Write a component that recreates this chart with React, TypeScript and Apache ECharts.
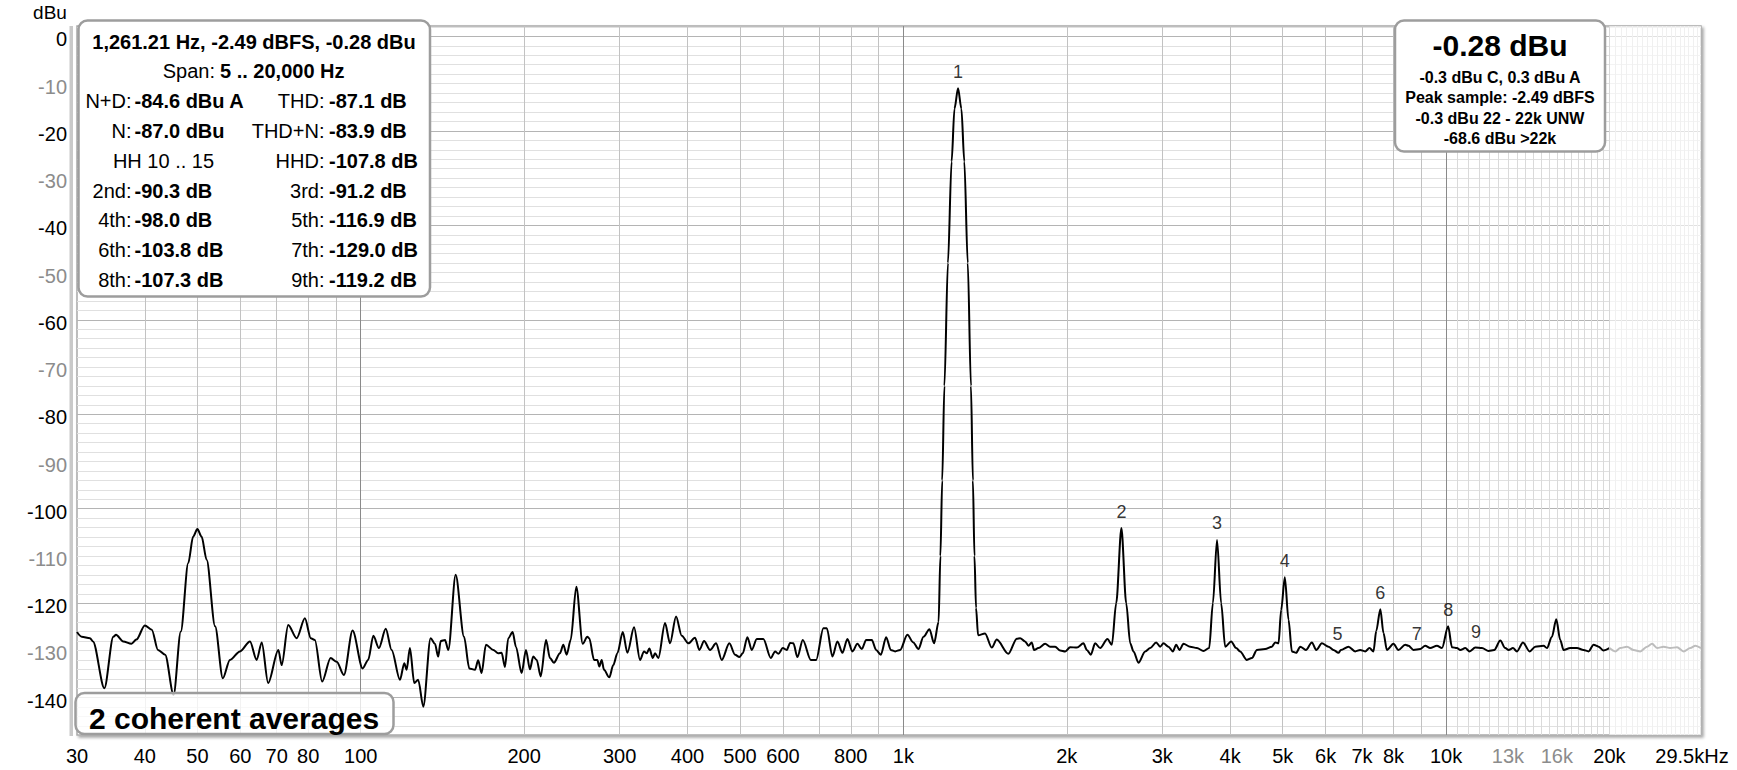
import React, { useEffect, useRef } from 'react';
import * as echarts from 'echarts';

const FONT = '"Liberation Sans", Arial, sans-serif';

// Noise floor 30 Hz .. 1.14 kHz
const lowFreqHz = [30.0, 30.6, 31.7, 32.1, 33.7, 35.0, 35.4, 36.5, 37.8, 38.6, 40.0, 41.2, 42.3, 43.6, 45.2, 46.6, 48.1, 49.1, 50.0, 50.9, 52.0, 53.9, 55.7, 57.4, 59.9, 62.5, 64.3, 65.7, 67.5, 70.5, 71.5, 73.5, 76.2, 78.9, 80.9, 82.3, 84.9, 88.0, 90.3, 93.1, 96.6, 100.8, 103.2, 105.5, 108.0, 111.2, 114.0, 118.1, 120.3, 121.5, 123.2, 125.5, 127.6, 130.4, 134.5, 137.0, 138.9, 140.4, 143.0, 145.0, 149.6, 155.0, 158.5, 162.4, 164.6, 167.0, 170.1, 175.5, 179.2, 181.8, 184.4, 187.0, 190.5, 193.2, 197.9, 201.6, 205.0, 207.9, 211.0, 214.6, 219.5, 223.2, 227.0, 232.9, 236.2, 239.6, 243.7, 249.6, 256.5, 261.5, 263.7, 269.1, 272.9, 275.2, 278.0, 280.7, 287.1, 292.0, 297.1, 304.0, 310.0, 318.9, 327.1, 332.7, 336.6, 340.3, 345.2, 348.6, 353.5, 363.7, 371.5, 381.1, 390.4, 401.5, 413.1, 420.7, 429.2, 440.3, 451.6, 462.7, 477.8, 489.5, 498.6, 505.8, 515.8, 525.5, 536.8, 552.0, 569.7, 580.2, 588.3, 599.5, 609.7, 618.3, 627.0, 637.8, 652.6, 675.1, 690.5, 712.2, 722.6, 739.9, 755.8, 772.0, 788.6, 805.5, 822.8, 838.3, 853.8, 874.7, 890.8, 908.7, 929.4, 948.1, 965.5, 986.2, 1017, 1043, 1066, 1089, 1117, 1139];
const lowLevelDbu = [-126.1, -127.1, -127.4, -128.1, -138.0, -127.1, -126.7, -128.1, -128.6, -127.7, -124.7, -125.6, -129.9, -130.9, -139.4, -126.0, -111.5, -105.9, -104.3, -105.9, -110.8, -124.9, -135.9, -132.0, -130.2, -128.1, -132.0, -128.3, -136.9, -129.9, -133.1, -124.6, -127.4, -123.2, -127.4, -127.8, -136.6, -131.6, -132.4, -135.2, -125.8, -133.8, -132.0, -126.9, -129.5, -125.4, -129.9, -136.2, -132.7, -134.1, -129.5, -136.9, -136.2, -141.9, -127.4, -128.6, -131.3, -128.0, -127.8, -129.9, -114.0, -127.1, -133.8, -134.1, -132.1, -134.8, -128.8, -129.9, -130.6, -130.5, -133.5, -127.4, -126.1, -129.2, -134.8, -129.9, -134.0, -131.3, -132.0, -135.5, -127.8, -131.6, -132.6, -130.6, -128.8, -130.9, -127.8, -116.5, -128.6, -127.1, -127.4, -132.0, -132.0, -133.4, -132.0, -134.1, -135.7, -133.1, -130.6, -126.1, -130.5, -125.1, -132.0, -130.2, -130.6, -129.6, -131.6, -130.6, -131.6, -124.2, -128.5, -122.8, -126.9, -128.5, -127.3, -129.9, -128.0, -129.9, -128.5, -132.0, -128.5, -130.9, -131.4, -130.6, -127.2, -129.9, -127.6, -127.6, -131.6, -130.2, -130.7, -129.5, -129.9, -128.4, -128.5, -131.4, -127.8, -132.0, -132.0, -125.3, -125.3, -131.3, -128.1, -130.5, -127.6, -130.2, -128.6, -129.7, -127.8, -127.8, -129.9, -130.9, -127.2, -129.9, -130.2, -129.9, -126.7, -128.3, -129.7, -127.1, -125.5, -128.5];

// Fundamental (1,261.21 Hz) main lobe
const fundFreqHz = [1161, 1170, 1179, 1190, 1208, 1227, 1242, 1261, 1279, 1295, 1314, 1332, 1343, 1352, 1361, 1373];
const fundLevelDbu = [-124.0, -110.0, -94.0, -74.0, -48.0, -26.5, -15.3, -11.0, -15.3, -26.5, -48.0, -74.0, -94.0, -110.0, -121.0, -126.8];

// Harmonics region 1.4 kHz .. 20 kHz
const highFreqHz = [1414, 1455, 1486, 1561, 1618, 1641, 1676, 1700, 1724, 1741, 1773, 1825, 1864, 1904, 1945, 1987, 2029, 2088, 2147, 2178, 2215, 2256, 2305, 2377, 2422, 2467, 2522, 2574, 2618, 2655, 2711, 2790, 2850, 2923, 2973, 3015, 3079, 3137, 3182, 3227, 3282, 3376, 3474, 3573, 3660, 3718, 3784, 3851, 3917, 4018, 4104, 4174, 4295, 4388, 4482, 4642, 4776, 4843, 4912, 4968, 5045, 5125, 5199, 5295, 5386, 5517, 5659, 5764, 5904, 6072, 6202, 6335, 6400, 6610, 6800, 6946, 7095, 7226, 7350, 7435, 7567, 7668, 7780, 8001, 8172, 8408, 8527, 8710, 8961, 9153, 9350, 9620, 9828, 10090, 10253, 10474, 10622, 10850, 11050, 11320, 11647, 11978, 12271, 12587, 12857, 13038, 13284, 13512, 13860, 14254, 14601, 15124, 15345, 15673, 15962, 16235, 16465, 16939, 17428, 17922, 18308, 18701, 19102, 19511, 20000];
const highLevelDbu = [-126.4, -129.4, -127.7, -130.7, -127.5, -127.4, -128.1, -129.0, -128.3, -129.9, -129.5, -128.6, -129.2, -129.2, -130.0, -130.2, -129.3, -129.4, -128.5, -129.9, -130.9, -128.5, -129.5, -127.6, -128.8, -120.0, -104.1, -120.0, -128.5, -130.2, -132.6, -130.2, -129.5, -128.3, -129.2, -128.5, -129.2, -130.2, -128.8, -129.9, -128.6, -129.2, -129.5, -130.1, -129.5, -120.0, -106.6, -120.0, -129.2, -128.1, -129.5, -130.2, -132.0, -131.6, -129.9, -129.7, -129.2, -128.3, -128.5, -121.4, -114.5, -123.5, -130.2, -130.5, -129.2, -129.9, -128.3, -129.9, -128.5, -129.2, -129.9, -130.5, -129.9, -129.2, -130.2, -129.9, -130.2, -129.5, -130.2, -125.9, -121.3, -126.3, -129.9, -128.6, -129.9, -128.8, -129.0, -129.9, -129.7, -129.0, -129.5, -129.0, -129.5, -124.9, -129.3, -129.5, -129.9, -129.5, -130.2, -129.4, -129.5, -130.1, -129.9, -127.9, -129.5, -129.9, -129.5, -130.2, -128.3, -130.2, -129.2, -129.0, -129.5, -127.1, -123.4, -127.8, -129.9, -129.5, -129.5, -129.9, -130.2, -128.8, -129.2, -130.0, -129.5];

// Above 20 kHz (drawn grey)
const ultraFreqHz = [20000, 20506, 20946, 21550, 22162, 22802, 23461, 23964, 24478, 25173, 25898, 26646, 27403, 28195, 28800, 29500];
const ultraLevelDbu = [-129.5, -130.2, -129.5, -129.2, -129.9, -130.2, -129.2, -128.6, -129.5, -129.2, -129.5, -129.3, -130.2, -129.5, -129.0, -129.5];

// Harmonic markers
const harmonicNames = ['1', '2', '3', '4', '5', '6', '7', '8', '9'];
const harmonicFreqHz = [1261.21, 2522.4, 3783.6, 5044.8, 6306.1, 7567.3, 8828.5, 10089.7, 11350.9];
const harmonicLevelDbu = [-11.0, -104.1, -106.6, -114.5, -130.0, -121.3, -130.0, -124.9, -129.5];

// Axis ticks
const xLabelValues = [30, 40, 50, 60, 70, 80, 100, 200, 300, 400, 500, 600, 800, 1000, 2000, 3000, 4000, 5000, 6000, 7000, 8000, 10000, 13000, 16000, 20000, 29500];
const xGreyLabels = [13000, 16000];
const xGridLines = [40, 50, 60, 70, 80, 90, 200, 300, 400, 500, 600, 700, 800, 900, 2000, 3000, 4000, 5000, 6000, 7000, 8000, 9000, 20000];
const xDecadeLines = [100, 1000, 10000];
const xFineLines = [10500, 11000, 11500, 12000, 12500, 13000, 13500, 14000, 14500, 15000, 15500, 16000, 16500, 17000, 17500, 18000, 18500, 19000, 19500, 20500, 21000, 21500, 22000, 22500, 23000, 23500, 24000, 24500, 25000, 25500, 26000, 26500, 27000, 27500, 28000, 28500, 29000];
const yLabelValues = [0, -10, -20, -30, -40, -50, -60, -70, -80, -90, -100, -110, -120, -130, -140];
const yMajorLines = [0, -20, -40, -60, -80, -100, -120, -140];
const yMinorLines = [2, -2, -4, -6, -8, -10, -12, -14, -16, -18, -22, -24, -26, -28, -30, -32, -34, -36, -38, -42, -44, -46, -48, -50, -52, -54, -56, -58, -62, -64, -66, -68, -70, -72, -74, -76, -78, -82, -84, -86, -88, -90, -92, -94, -96, -98, -102, -104, -106, -108, -110, -112, -114, -116, -118, -122, -124, -126, -128, -130, -132, -134, -136, -138, -142, -144, -146];

// Info box texts
const headerLine = '1,261.21 Hz, -2.49 dBFS, -0.28 dBu';
const spanLabel = 'Span:';
const spanValue = '5 .. 20,000 Hz';
const leftLabels = ['N+D:', 'N:', '', '2nd:', '4th:', '6th:', '8th:'];
const leftValues = ['-84.6 dBu A', '-87.0 dBu', '', '-90.3 dB', '-98.0 dB', '-103.8 dB', '-107.3 dB'];
const hhText = 'HH 10 .. 15';
const rightLabels = ['THD:', 'THD+N:', 'HHD:', '3rd:', '5th:', '7th:', '9th:'];
const rightValues = ['-87.1 dB', '-83.9 dB', '-107.8 dB', '-91.2 dB', '-116.9 dB', '-129.0 dB', '-119.2 dB'];
const levelTitle = '-0.28 dBu';
const levelLines = ['-0.3 dBu C, 0.3 dBu A', 'Peak sample: -2.49 dBFS', '-0.3 dBu 22 - 22k UNW', '-68.6 dBu >22k'];
const averagesText = '2 coherent averages';

const X_MIN = 30;
const X_MAX = 29500;
const Y_MIN = -147.9;
const Y_MAX = 2.2;

function zip(a: number[], b: number[]) {
  return a.map((v, i) => [v, b[i]]);
}

function txt(text: string, x: number, y: number, size: number, weight: string, align: string, color = '#000') {
  return {
    type: 'text',
    x,
    y,
    z: 12,
    silent: true,
    style: {
      text,
      font: `${weight} ${size}px ${FONT}`,
      fill: color,
      textAlign: align,
      align,
      textVerticalAlign: 'middle',
      verticalAlign: 'middle',
    },
  };
}

function box(x: number, y: number, w: number, h: number, fill: string) {
  return {
    type: 'rect',
    z: 11,
    silent: true,
    shape: { x, y, width: w, height: h, r: 9 },
    style: { fill, stroke: '#9d9d9d', lineWidth: 2.5 },
  };
}

function xLabel(v: number) {
  if (Math.abs(v - 29500) < 1) return '{u|29.5kHz}';
  if (v >= 1000) return `${Math.round(v / 100) / 10}k`;
  return `${Math.round(v)}`;
}

function buildOption() {
  const mainCurve = zip(lowFreqHz, lowLevelDbu)
    .concat(zip(fundFreqHz, fundLevelDbu))
    .concat(zip(highFreqHz, highLevelDbu));
  const ultraCurve = zip(ultraFreqHz, ultraLevelDbu);

  const xBase = { type: 'log', logBase: 10, min: X_MIN, max: X_MAX, gridIndex: 0 };
  const hiddenX = (values: number[], color: string) => ({
    ...xBase,
    axisLine: { show: false },
    axisLabel: { show: false },
    axisTick: { show: false, customValues: values },
    splitLine: { show: true, lineStyle: { color, width: 1 } },
  });
  const yBase = { type: 'value', min: Y_MIN, max: Y_MAX, gridIndex: 0 };

  const graphics: any[] = [];
  graphics.push({
    type: 'rect', z: 1, silent: true,
    shape: { x: 69.5, y: 26, width: 3.5, height: 710 },
    style: { fill: '#c9c9c9' },
  });
  graphics.push(txt('dBu', 50, 12, 19, 'normal', 'center'));

  // Top-left box
  graphics.push(box(78.5, 20.5, 351.5, 276, '#ffffff'));
  const rowY = (i: number) => 41.5 + i * 29.8;
  graphics.push(txt(headerLine, 254, rowY(0), 20, 'bold', 'center'));
  graphics.push(txt(spanLabel, 215, rowY(1), 20, 'normal', 'right'));
  graphics.push(txt(spanValue, 220, rowY(1), 20, 'bold', 'left'));
  for (let i = 0; i < leftLabels.length; i++) {
    const y = rowY(i + 2);
    if (leftLabels[i]) {
      graphics.push(txt(leftLabels[i], 131.5, y, 20, 'normal', 'right'));
      graphics.push(txt(leftValues[i], 134.5, y, 20, 'bold', 'left'));
    } else {
      graphics.push(txt(hhText, 163.5, y, 20, 'normal', 'center'));
    }
    graphics.push(txt(rightLabels[i], 324.5, y, 20, 'normal', 'right'));
    graphics.push(txt(rightValues[i], 329, y, 20, 'bold', 'left'));
  }

  // Top-right box
  graphics.push(box(1395, 20.5, 210, 131, '#ffffff'));
  graphics.push(txt(levelTitle, 1500, 45, 30, 'bold', 'center'));
  levelLines.forEach((t, i) => {
    graphics.push(txt(t, 1500, 77.5 + i * 20.3, 16, 'bold', 'center'));
  });

  // Bottom-left box
  graphics.push(box(75.5, 693, 318, 41, 'rgba(255,255,255,0.78)'));
  graphics.push(txt(averagesText, 234, 718.5, 30, 'bold', 'center'));

  return {
    animation: false,
    backgroundColor: '#ffffff',
    textStyle: { fontFamily: FONT },
    grid: {
      left: 77,
      right: 36,
      top: 26,
      bottom: 35,
      show: true,
      backgroundColor: '#ffffff',
      borderColor: '#a9a9a9',
      borderWidth: 1.5,
      shadowColor: 'rgba(0,0,0,0.35)',
      shadowBlur: 3,
      shadowOffsetX: 2,
      shadowOffsetY: 2,
      containLabel: false,
      outerBoundsMode: 'none',
    },
    xAxis: [
      {
        ...xBase,
        axisLine: { show: false },
        axisTick: { show: false },
        splitLine: { show: false },
        axisLabel: {
          customValues: xLabelValues,
          formatter: (v: number) => xLabel(Number(v)),
          color: (v: any) => (xGreyLabels.indexOf(Math.round(Number(v))) >= 0 ? '#8c8c8c' : '#000000'),
          fontSize: 20,
          fontFamily: FONT,
          margin: 11,
          hideOverlap: false,
          rich: {
            u: { fontSize: 20, fontFamily: FONT, color: '#000000', padding: [0, 18, 0, 0] },
          },
        },
      },
      hiddenX(xFineLines, '#dadada'),
      hiddenX(xGridLines, '#c2c2c2'),
      hiddenX(xDecadeLines, '#8a8a8a'),
    ],
    yAxis: [
      {
        ...yBase,
        axisLine: { show: false },
        axisTick: { show: false, customValues: yMajorLines },
        splitLine: { show: true, lineStyle: { color: '#b4b4b4', width: 1 } },
        axisLabel: {
          customValues: yLabelValues,
          color: (v: any) => (Math.round(Number(v)) % 20 === 0 ? '#000000' : '#8c8c8c'),
          fontSize: 20,
          fontFamily: FONT,
          margin: 10,
          verticalAlign: 'top',
          lineHeight: 6,
          hideOverlap: false,
        },
      },
      {
        ...yBase,
        axisLine: { show: false },
        axisLabel: { show: false },
        axisTick: { show: false, customValues: yMinorLines },
        splitLine: { show: true, lineStyle: { color: '#e0e0e0', width: 1 } },
      },
    ],
    series: [
      {
        name: 'ultrasonic shade',
        type: 'line',
        xAxisIndex: 0,
        yAxisIndex: 0,
        data: [],
        silent: true,
        markArea: {
          silent: true,
          itemStyle: { color: 'rgba(255,255,255,0.6)' },
          data: [[{ xAxis: 20000 }, { xAxis: X_MAX }]],
        },
      },
      {
        name: 'Spectrum',
        type: 'line',
        xAxisIndex: 0,
        yAxisIndex: 0,
        data: mainCurve,
        showSymbol: false,
        symbol: 'none',
        smooth: 0.3,
        smoothMonotone: 'x',
        lineStyle: { color: '#000000', width: 2 },
        z: 3,
        silent: true,
      },
      {
        name: 'Spectrum >20k',
        type: 'line',
        xAxisIndex: 0,
        yAxisIndex: 0,
        data: ultraCurve,
        showSymbol: false,
        symbol: 'none',
        smooth: 0.3,
        smoothMonotone: 'x',
        lineStyle: { color: '#bdbdbd', width: 2 },
        z: 3,
        silent: true,
      },
      {
        name: 'Harmonics',
        type: 'scatter',
        xAxisIndex: 0,
        yAxisIndex: 0,
        data: harmonicFreqHz.map((f, i) => ({ name: harmonicNames[i], value: [f, harmonicLevelDbu[i]] })),
        symbolSize: 1,
        itemStyle: { color: 'rgba(0,0,0,0)' },
        label: {
          show: true,
          position: 'top',
          distance: 7,
          formatter: '{b}',
          fontSize: 18,
          fontFamily: FONT,
          color: '#000000',
        },
        z: 4,
        silent: true,
      },
    ],
    graphic: graphics,
  };
}

export default function App() {
  const ref = useRef<HTMLDivElement>(null);
  useEffect(() => {
    if (!ref.current) return;
    const chart = echarts.init(ref.current, null, { renderer: 'svg' });
    chart.setOption(buildOption() as any);
    return () => chart.dispose();
  }, []);
  return (
    <div
      ref={ref}
      style={{ position: 'fixed', left: 0, top: 0, width: 1737, height: 770, background: '#ffffff' }}
    />
  );
}
